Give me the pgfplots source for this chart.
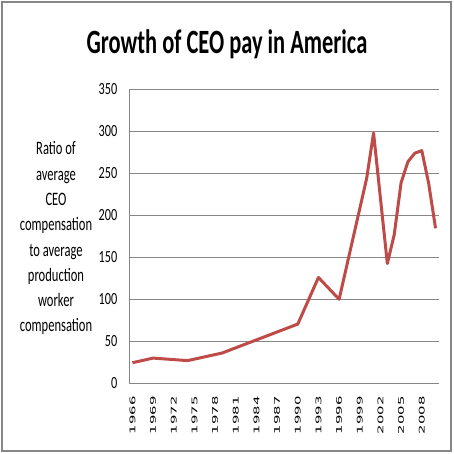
\documentclass[border=0pt]{standalone}
\usepackage{fontspec}
\usepackage{pgfplots}
\pgfplotsset{compat=1.18}
\setmainfont{Carlito}
\newfontfamily\tickfont{Carlito}[FakeStretch=0.72]
\newfontfamily\labelfont{Carlito}[FakeStretch=0.66]
\newfontfamily\titlefont{Carlito}[FakeStretch=0.66]
\newfontfamily\xfont{DejaVu Sans}[FakeStretch=1.9]
\definecolor{ceored}{HTML}{BE4B48}
\definecolor{gridgray}{HTML}{868686}

\begin{document}
\begin{tikzpicture}
  \useasboundingbox (-129pt,-70.7pt) rectangle (325pt,383.3pt);
  \draw[gridgray, line width=1.5pt] (-127pt,-67.7pt) rectangle (322pt,381.3pt);

  \begin{axis}[
      at={(0pt,0pt)}, anchor=south west,
      scale only axis,
      width=310pt, height=294pt,
      xmin=1965.5, xmax=2010.5,
      ymin=0, ymax=350,
      xtick={1966,1969,...,2008},
      ytick={0,50,...,350},
      axis lines*=left,
      major tick length=0pt,
      axis line style={gridgray, line width=1pt},
      ymajorgrids,
      grid style={gridgray, line width=1pt},
      /pgf/number format/assume math mode=true,
      /pgf/number format/1000 sep={},
      x tick label style={font=\xfont\fontsize{7.8}{8}\selectfont,
        rotate=90, anchor=east, inner sep=0pt},
      xticklabel shift=13pt,
      y tick label style={font=\tickfont\fontsize{17}{17}\selectfont,
        anchor=east, inner sep=0pt},
      yticklabel shift=11.5pt,
    ]
    \addplot[ceored, line width=3pt, line join=round] coordinates {
      (1966,24.5)
      (1969,30)
      (1974,27)
      (1979,36)
      (1990,70.5)
      (1993,126)
      (1996,100)
      (2000,244)
      (2001,298)
      (2003,142.5)
      (2004,177)
      (2005,239)
      (2006,264)
      (2007,274)
      (2008,277)
      (2009,238)
      (2010,184.5)
    };
  \end{axis}

  \node[anchor=base, inner sep=0pt, font=\titlefont\bfseries\fontsize{34}{34}\selectfont]
    at (98pt,329.8pt) {Growth of CEO pay in America};
  \node[anchor=base, inner sep=0pt, align=center,
        font=\labelfont\fontsize{19}{25.3}\selectfont]
    at (-73pt,51.3pt) {Ratio of\\average\\CEO\\compensation\\to average\\production\\worker\\compensation};
\end{tikzpicture}
\end{document}
